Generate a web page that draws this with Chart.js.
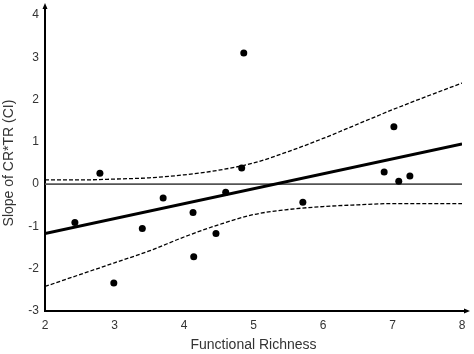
<!DOCTYPE html>
<html>
<head>
<meta charset="utf-8">
<script src="https://cdn.jsdelivr.net/npm/chart.js@4"></script>
<style>
  html, body { margin: 0; padding: 0; background: #fff; }
  #wrap { width: 474px; height: 354px; }
</style>
</head>
<body>
<div id="wrap"><canvas id="chart" width="474" height="354"></canvas></div>
<script>
// observed points
const richness = [2.43, 2.79, 2.99, 3.40, 3.70, 4.13, 4.14, 4.46, 4.60, 4.83, 4.86, 5.71, 6.88, 7.02, 7.09, 7.25]
const slope = [-0.91, 0.26, -2.34, -1.05, -0.33, -0.67, -1.72, -1.17, -0.19, 0.38, 3.10, -0.43, 0.29, 1.36, 0.07, 0.19]

// fitted line ends
const fitX = [2, 8]
const fitY = [-1.17, 0.95]

// confidence band
const ciX = [2, 2.5, 3, 3.5, 4, 4.5, 5, 5.5, 6, 6.5, 7, 7.5, 8]
const ciUpper = [0.1, 0.1, 0.12, 0.15, 0.22, 0.33, 0.5, 0.77, 1.08, 1.42, 1.76, 2.08, 2.39]
const ciLower = [-2.42, -2.14, -1.86, -1.58, -1.25, -0.96, -0.72, -0.6, -0.53, -0.49, -0.46, -0.46, -0.46]

const zeroX = [2, 8]
const zeroY = [0, 0]

const xTicks = [2, 3, 4, 5, 6, 7, 8]
const yTicks = [-3, -2, -1, 0, 1, 2, 3, 4]

const toPts = (xs, ys) => xs.map((x, i) => ({ x, y: ys[i] }))

const FONT = 'Liberation Sans, Arial, sans-serif'
const TEXT = '#333'

// axis arrows past the plot area
const axisArrows = {
  id: 'axisArrows',
  afterDraw(chart) {
    const { ctx, chartArea } = chart
    const { left, top, right, bottom } = chartArea
    ctx.save()
    ctx.strokeStyle = '#000'
    ctx.fillStyle = '#000'
    ctx.lineWidth = 2
    ctx.beginPath()
    ctx.moveTo(left, top)
    ctx.lineTo(left, top - 9)
    ctx.moveTo(right, bottom)
    ctx.lineTo(right + 5, bottom)
    ctx.stroke()
    ctx.beginPath()
    ctx.moveTo(left, top - 12)
    ctx.lineTo(left - 2.5, top - 6)
    ctx.lineTo(left + 2.5, top - 6)
    ctx.closePath()
    ctx.fill()
    ctx.beginPath()
    ctx.moveTo(right + 8, bottom)
    ctx.lineTo(right + 2, bottom - 2.5)
    ctx.lineTo(right + 2, bottom + 2.5)
    ctx.closePath()
    ctx.fill()
    ctx.restore()
  },
}

const lineSet = (data, opts) => ({
  data,
  showLine: true,
  pointRadius: 0,
  pointHoverRadius: 0,
  fill: false,
  tension: 0,
  ...opts,
})

new Chart(document.getElementById('chart'), {
  type: 'scatter',
  data: {
    datasets: [
      {
        label: 'Sites',
        data: toPts(richness, slope),
        pointRadius: 3.5,
        pointBackgroundColor: '#000',
        pointBorderColor: '#000',
        pointBorderWidth: 0,
        order: 0,
      },
      lineSet(toPts(fitX, fitY), { label: 'Fit', borderColor: '#000', borderWidth: 3, order: 1 }),
      lineSet(toPts(ciX, ciUpper), { label: 'Upper CI', borderColor: '#000', borderWidth: 1.3, borderDash: [4, 2], cubicInterpolationMode: 'monotone', order: 2 }),
      lineSet(toPts(ciX, ciLower), { label: 'Lower CI', borderColor: '#000', borderWidth: 1.3, borderDash: [4, 2], cubicInterpolationMode: 'monotone', order: 2 }),
      lineSet(toPts(zeroX, zeroY), { label: 'Zero', borderColor: '#555', borderWidth: 1.6, order: 3 }),
    ],
  },
  options: {
    responsive: false,
    animation: false,
    events: [],
    layout: { padding: { left: 0, top: 15, right: 12, bottom: 0 } },
    plugins: {
      legend: { display: false },
      tooltip: { enabled: false },
    },
    scales: {
      x: {
        type: 'linear',
        min: 2,
        max: 8,
        afterFit(scale) { scale.height = 43 },
        afterBuildTicks(scale) { scale.ticks = xTicks.map((value) => ({ value })) },
        grid: { display: false, drawTicks: false },
        border: { display: true, color: '#000', width: 2 },
        ticks: { padding: 7, color: TEXT, font: { family: FONT, size: 12 } },
        title: {
          display: true,
          text: 'Functional Richness',
          color: TEXT,
          font: { family: FONT, size: 14 },
          padding: { top: 0, bottom: 0 },
        },
      },
      y: {
        type: 'linear',
        min: -3,
        max: 4,
        afterFit(scale) { scale.width = 45 },
        afterBuildTicks(scale) { scale.ticks = yTicks.map((value) => ({ value })) },
        grid: { display: false, drawTicks: false },
        border: { display: true, color: '#000', width: 2 },
        ticks: { padding: 6, color: TEXT, font: { family: FONT, size: 12 } },
        title: {
          display: true,
          text: 'Slope of CR*TR (CI)',
          color: TEXT,
          font: { family: FONT, size: 14 },
          padding: { top: 1, bottom: 1 },
        },
      },
    },
  },
  plugins: [axisArrows],
})
</script>
</body>
</html>
